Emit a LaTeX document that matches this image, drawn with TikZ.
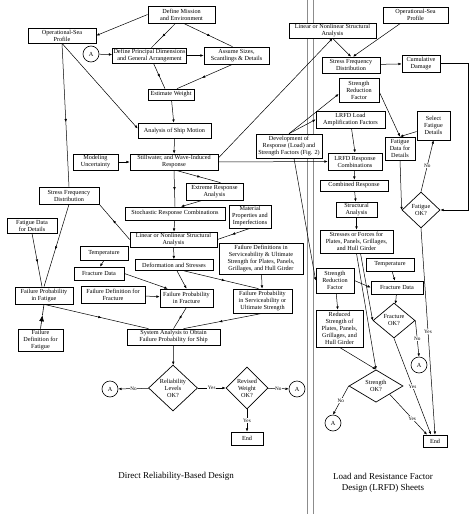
\documentclass[tikz,border=0pt]{standalone}
\usepackage{fontspec}
\setmainfont{Liberation Serif}
\usetikzlibrary{positioning,arrows.meta,shapes.geometric,decorations.markings,calc}

\begin{document}
\begin{tikzpicture}[
  x=1pt, y=-1pt, >=Latex,
  font=\fontsize{6.2}{7}\selectfont,
  b/.style={draw=black, line width=0.7pt, align=center, inner sep=1pt, fill=white},
  sz/.style 2 args={minimum width=#1pt, minimum height=#2pt},
  dm/.style={b, diamond, inner sep=0pt},
  cn/.style={draw=black, line width=0.6pt, circle, inner sep=0pt,
             minimum size=16pt, fill=white},
  ar/.style={-{Latex[length=3.2pt,width=2.6pt]}, line width=0.5pt},
  % arrow tip half way along the connector
  am/.style={line width=0.5pt, postaction={decorate},
             decoration={markings, mark=at position 0.55 with
               {\arrow{Latex[length=3.2pt,width=2.6pt]}}}},
  arb/.style={-{Latex[length=6pt,width=5pt]}, line width=0.6pt},
  lb/.style={font=\fontsize{5.2}{6}\selectfont, inner sep=0.6pt, fill=white},
  ttl/.style={font=\fontsize{9}{11}\selectfont, align=center},
  sep/.style={black!45, line width=0.6pt}]

\useasboundingbox (0,0) rectangle (474,514);

% double rule between the two sheets
\draw[sep] (307,0) -- (307,514);
\draw[sep] (313,0) -- (313,514);

% ================= left: direct reliability-based design =================
\node[b, sz={67}{17}] (mis) at (181.5,14.5) {Define Mission\\and Environment};
\node[b, sz={68}{15}] (opl) at (62,35.5) {Operational-Sea\\Profile};
\node[cn] (aL) at (91,54) {A};
\node[b, sz={73}{15}] (dim) at (149.5,55.5) {Define Principal Dimensions\\and General Arrangement};
\node[b, sz={65}{17}] (asm) at (236.5,55.5) {Assume Sizes,\\Scantlings \& Details};
\node[b, sz={46}{11}] (wgt) at (171,94.5) {Estimate Weight};
\node[b, sz={73}{15}] (mot) at (174.5,130.5) {Analysis of Ship Motion};
\node[b, sz={45}{16}] (unc) at (95.5,162) {Modeling\\Uncertainty};
\node[b, sz={88}{16}] (swr) at (174,162) {Stillwater, and Wave-Induced\\Response};
\node[b, sz={57}{17}] (ext) at (214.5,191.5) {Extreme Response\\Analysis};
\node[b, sz={100}{13}] (sto) at (175,213.5) {Stochastic Response Combinations};
\node[b, sz={42}{23}] (mat) at (250,216.5) {Material\\Properties and\\Imperfections};
\node[b, sz={87}{15}] (lnl) at (173.5,239.5) {Linear or Nonlinear Structural\\Analysis};
\node[b, sz={60}{17}] (sfl) at (69,195.5) {Stress Frequency\\Distribution};
\node[b, sz={50}{15}] (fdl) at (32,225.5) {Fatigue Data\\for Details};
\node[b, sz={48}{14}] (tml) at (104,253) {Temperature};
\node[b, sz={50}{13}] (frl) at (99,273.5) {Fracture Data};
\node[b, sz={78}{11}] (dfs) at (174,265) {Deformation and Stresses};
\node[b, sz={84}{31}] (fds) at (261,258.5)
  {Failure Definitions in\\Serviceability \& Ultimate\\Strength for Plates, Panels,\\Grillages, and Hull Girder};
\node[b, sz={58}{17}] (pft) at (44,295.5) {Failure Probability\\in Fatigue};
\node[b, sz={64}{17}] (dff) at (113,294.5) {Failure Definition for\\Fracture};
\node[b, sz={53}{18}] (pfr) at (186.5,298) {Failure Probability\\in Fracture};
\node[b, sz={59}{24}] (psu) at (262.5,301) {Failure Probability\\in Serviceability or\\Ultimate Strength};
\node[b, sz={45}{22}] (dft) at (40.5,340) {Failure\\Definition for\\Fatigue};
\node[b, sz={93}{16}] (sys) at (173.5,337) {System Analysis to Obtain\\Failure Probability for Ship};
\node[dm, sz={49}{46}] (rel) at (173,388) {Reliability\\Levels\\OK?};
\node[cn] (aL2) at (110,389) {A};
\node[dm, sz={42}{42}] (rev) at (247,388) {Revised\\Weight\\OK?};
\node[cn] (aM) at (297,389) {A};
\node[b, sz={32}{13}] (endL) at (247,438.5) {End};
\node[ttl] (tl) at (176,476) {Direct Reliability-Based Design};

\draw[ar] (mis.west) -- (opl.east);
\draw[ar] (aL) -- (dim);
\draw[am] ([xshift=-6pt]mis.south) -- ([xshift=2pt]dim.north);
\draw[am] ([xshift=2pt]mis.south) -- ([xshift=-4pt]asm.north);
\draw[ar] (dim) -- (asm);
\draw[am] ([xshift=4pt]dim.south) -- ([xshift=-6pt]wgt.north);
\draw[am] ([xshift=-4pt]asm.south) -- ([xshift=6pt]wgt.north);
\draw[ar] (wgt) -- (mot);
\draw[ar] (opl.south) -- ([yshift=2pt]mot.west);
\draw[am] (opl.south) -- (sfl.north);
\draw[ar] (mot) -- (swr);
\draw[ar] (unc) -- (swr);
\draw[am] ([xshift=2pt]swr.south) -- ([xshift=6pt]ext.north);
\draw[ar] ([xshift=-12pt]ext.south) -- ([xshift=6pt]sto.north);
\draw[am] (swr.south) -- (sto.north);
\draw[am] (mat.south) -- (lnl.east);
\draw[ar] (sto) -- (lnl);
\draw[am] (lnl.west) -- (sfl.south east);
\draw[am] (sfl.south) -- (pft.north);
\draw[am] (fdl.south) -- ([xshift=-2pt]pft.north);
% large tip half way up from the fatigue failure definition
\coordinate (dftm) at ($(dft.north)!0.55!(pft.south)$);
\draw[arb] (dft.north) -- (dftm);
\draw[line width=0.6pt] (dftm) -- (pft.south);
\draw[ar] (tml.south) -- ([xshift=1pt]frl.north);
\draw[ar] (lnl) -- (dfs);
\draw[ar] (frl.east) -- ([xshift=8pt]pfr.north west);
\draw[ar] ([xshift=3pt]dfs.south) -- (pfr.north);
\draw[am] ([xshift=10pt]dfs.south) -- ([xshift=-4pt]psu.north);
\draw[ar] (fds) -- (psu);
\draw[ar] (dff) -- (pfr);
\draw[am] (pft.south) -- ([xshift=-25pt]sys.north);
\draw[am] (pfr.south) -- (sys.north);
\draw[am] (psu.south) -- ([xshift=10pt]sys.north);
\draw[ar] (sys) -- (rel);
\draw[ar] (rel) -- node[lb] {No} (aL2);
\draw[ar] (rel) -- node[lb] {Yes} (rev);
\draw[ar] (rev) -- node[lb] {No} (aM);
\draw[ar] (rev) -- node[lb] {Yes} (endL);

% ================= right: LRFD sheets =================
\node[b, sz={87}{15}] (lnr) at (332.5,30.5) {Linear or Nonlinear Structural\\Analysis};
\node[b, sz={65}{16}] (opr) at (415.5,15) {Operational-Sea\\Profile};
\node[b, sz={58}{16}] (sfr) at (351,65) {Stress Frequency\\Distribution};
\node[b, sz={38}{17}] (cum) at (421,63.5) {Cumulative\\Damage};
\node[b, sz={40}{24}] (srt) at (359,90) {Strength\\Reduction\\Factor};
\node[b, sz={69}{17}] (lla) at (350.5,119.5) {LRFD Load\\Amplification Factors};
\node[b, sz={66}{24}] (dev) at (289,146) {Development of\\Response (Load) and\\Strength Factors (Fig. 2)};
\node[b, sz={33}{29}] (sel) at (433.5,125.5) {Select\\Fatigue\\Details};
\node[b, sz={30}{23}] (fdr) at (400,148.5) {Fatigue\\Data for\\Details};
\node[b, sz={54}{17}] (lrc) at (355,161.5) {LRFD Response\\Combinations};
\node[b, sz={68}{11}] (cmb) at (354,185.5) {Combined Response};
\node[b, sz={41}{15}] (sta) at (356.5,209.5) {Structural\\Analysis};
\node[dm, sz={38}{36}] (fok) at (421,210) {Fatigue\\OK?};
\node[b, sz={73}{23}] (sof) at (356.5,241.5) {Stresses or Forces for\\Plates, Panels, Grillages,\\and Hull Girder};
\node[b, sz={48}{13}] (tmr) at (390,264.5) {Temperature};
\node[b, sz={38}{25}] (srb) at (335,280.5) {Strength\\Reduction\\Factor};
\node[b, sz={52}{13}] (frr) at (397,287.5) {Fracture Data};
\node[b, sz={47}{37}] (rdd) at (339.5,328.5) {Reduced\\Strength of\\Plates, Panels,\\Grillages, and\\Hull Girder};
\node[dm, sz={42}{35}] (frk) at (394,320.5) {Fracture\\OK?};
\node[cn] (aR) at (419,365) {A};
\node[dm, sz={54}{30}] (sok) at (376,386) {Strength\\OK?};
\node[cn] (aB) at (333,423) {A};
\node[b, sz={24}{12}] (endR) at (435,441) {End};
\node[ttl] (tr) at (383,482.5) {Load and Resistance Factor\\Design (LRFD) Sheets};

\draw[ar] ([yshift=4pt]swr.east) -- (lnr.south);
\draw[ar] (lnr.south) -- (sfr.north);
\draw[ar] ([xshift=-15pt]opr.south) -- ([xshift=2pt]sfr.north);
\draw[ar] (sfr) -- (cum);
\draw[ar] (cum.east) -- ++(28,0) |- (fok.east);
\draw[ar] (dev.north) -- ([yshift=-4pt]srt.west);
\draw[ar] (dev.north) -- (lla.west);
\draw[ar] (swr.east) -- (lrc.west);
\draw[ar] ([xshift=5pt]dev.south) -- (srb.west);
\draw[ar] ([xshift=1pt]lla.south) -- (lrc.north);
\draw[ar] (lrc) -- (cmb);
\draw[ar] (cmb) -- (sta);
\draw[ar] (sta) -- (sof);
\draw[ar] ([yshift=-2pt]srt.east) -- (fdr.north);
\draw[ar] ([yshift=-6pt]sel.west) -- (fdr.north);
\draw[ar] (fdr.south) -- (fok.west);
\draw[ar] (fok.north) -- node[lb] {No} (sel.south);
\draw[ar] (fok.south) -- node[lb] {Yes} (endR.north);
\draw[ar] ([xshift=4pt]sof.south) -- (frk.west);
\draw[ar] (sof.south) -- (sok.north);
\draw[ar] (tmr) -- (frr);
\draw[ar] (srb.east) -- (frr.west);
\draw[ar] (srb) -- (rdd);
\draw[ar] (frr) -- (frk);
\draw[ar] (rdd.south) -- (sok.north);
\draw[ar] (frk.east) -- node[lb] {No} (aR.north);
\draw[ar] (frk.south) -- node[lb] {Yes} ([xshift=-4pt]endR.north);
\draw[ar] (sok.west) -- node[lb] {No} (aB.north);
\draw[ar] ($(sok.south)!0.5!(sok.east)$) -- node[lb, pos=0.6] {Yes} ([xshift=-8pt]endR.north);
\end{tikzpicture}
\end{document}
